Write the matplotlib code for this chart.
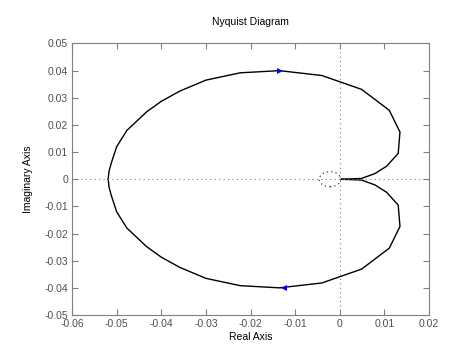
import numpy as np
import matplotlib.pyplot as plt
from matplotlib.patches import Ellipse

# upper half of the Nyquist curve (real, imag)
re_upper = [0.0004, 0.0049, 0.0079, 0.0105, 0.0131, 0.0135, 0.0111, 0.0049,
            -0.0040, -0.0135, -0.0223, -0.0300, -0.0358, -0.0400, -0.0433,
            -0.0477, -0.0500, -0.0512, -0.0517, -0.0519]
im_upper = [0.0, 0.0003, 0.0021, 0.0048, 0.0095, 0.0174, 0.0254, 0.0331,
            0.0382, 0.0400, 0.0392, 0.0365, 0.0325, 0.0287, 0.0248,
            0.0180, 0.0120, 0.0060, 0.0030, 0.0]

# small dotted loop near the origin
loop_center = (-0.0022, 0.0)
loop_w, loop_h = 0.0048, 0.0055

# arrow heads (x, y, direction)
arrows = [(-0.0135, 0.0400, 1), (-0.0125, -0.0400, -1)]

grey = '#808080'
plt.rcParams['font.family'] = ['Liberation Sans', 'DejaVu Sans']

fig = plt.figure(figsize=(4.74, 3.55), dpi=100)
ax = fig.add_axes([0.152, 0.1127, 0.753, 0.7648])

re = np.array(re_upper)
im = np.array(im_upper)
ax.plot(re, im, color='black', lw=1.0)
ax.plot(re, -im, color='black', lw=1.0)

ax.axhline(0, color=grey, lw=0.8, ls=(0, (1, 3)))
ax.axvline(0, color=grey, lw=0.8, ls=(0, (1, 3)))

ax.add_patch(Ellipse(loop_center, loop_w, loop_h, fill=False,
                     ec='#404040', lw=0.9, ls=(0, (1, 2.5))))

for x, y, d in arrows:
    ax.plot(x, y, marker='>' if d > 0 else '<', color='blue',
            markersize=5, markeredgewidth=0)

ax.set_xlim(-0.06, 0.02)
ax.set_ylim(-0.05, 0.05)
ax.set_xticks(np.arange(-0.06, 0.0201, 0.01))
ax.set_yticks(np.arange(-0.05, 0.0501, 0.01))
ax.set_xticklabels(['-0.06', '-0.05', '-0.04', '-0.03', '-0.02', '-0.01', '0', '0.01', '0.02'])
ax.set_yticklabels(['-0.05', '-0.04', '-0.03', '-0.02', '-0.01', '0', '0.01', '0.02', '0.03', '0.04', '0.05'])

ax.tick_params(direction='in', top=True, right=True, length=4, width=0.8,
               color=grey, labelcolor='#505050', labelsize=7.5, pad=3)
for s in ax.spines.values():
    s.set_color(grey)
    s.set_linewidth(0.8)

ax.set_title('Nyquist Diagram', fontsize=7.5, pad=13)
ax.set_xlabel('Real Axis', fontsize=7.5, labelpad=2)
ax.set_ylabel('Imaginary Axis', fontsize=7.5, labelpad=8)

fig.savefig('out.png', dpi=100)
